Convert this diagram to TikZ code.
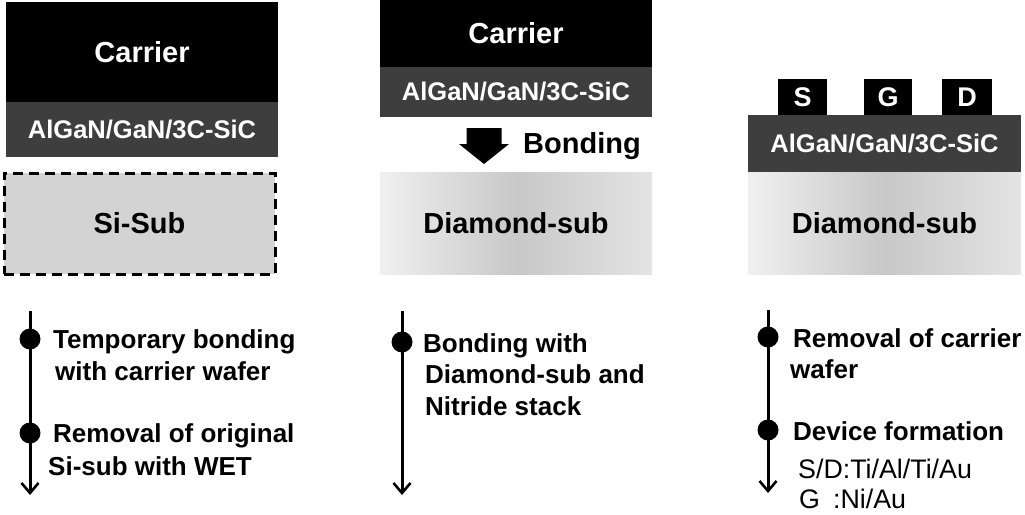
\documentclass[tikz,border=0pt]{standalone}
\usepackage{fontspec}
\setmainfont{Liberation Sans}
\usetikzlibrary{arrows.meta}
\definecolor{layergrey}{RGB}{62,62,62}
\definecolor{sisubgrey}{RGB}{211,211,211}
\definecolor{diaedge}{RGB}{240,240,240}
\definecolor{diamid}{RGB}{200,200,200}
\definecolor{diaright}{RGB}{228,228,228}
\begin{document}
\begin{tikzpicture}[x=1pt,y=-1pt,
  box/.style={anchor=north west, inner sep=0pt, outer sep=0pt},
  carrierbox/.style={box, fill=black, text=white, font=\bfseries\fontsize{29}{32}\selectfont},
  layerbox/.style={box, fill=layergrey, text=white, font=\bfseries\fontsize{25.5}{28}\selectfont},
  subbox/.style={box, text=black, font=\bfseries\fontsize{29}{32}\selectfont},
  diamondbox/.style={subbox, left color=diaedge, right color=diaright, middle color=diamid},
  electrode/.style={box, fill=black, text=white, font=\bfseries\fontsize{27}{29}\selectfont},
  dot/.style={circle, fill=black, inner sep=0pt, minimum size=21pt},
  tl/.style={line width=3pt, -{Straight Barb[length=10pt,width=17pt,line width=2.6pt]}},
  steptext/.style={anchor=base west, inner sep=0pt, font=\bfseries\fontsize{26}{28}\selectfont},
  metaltext/.style={anchor=base west, inner sep=0pt, font=\fontsize{26.8}{28}\selectfont}
]
\path[use as bounding box, fill=white] (0,0) rectangle (1025,514);

% ---- Panel 1 ----
\node[carrierbox, minimum width=272pt, minimum height=100pt] (car1) at (6,2) {Carrier};
\node[layerbox, minimum width=272pt, minimum height=55pt] (lay1) at (6,102) {AlGaN/GaN/3C-SiC};
\node[subbox, fill=sisubgrey, draw=black, line width=3pt, dash pattern=on 10pt off 6pt,
      minimum width=271pt, minimum height=101pt] (si1) at (4,173) {Si-Sub};

% ---- Panel 2 ----
\node[carrierbox, minimum width=272pt, minimum height=67pt] (car2) at (380,0) {Carrier};
\node[layerbox, minimum width=272pt, minimum height=50pt] (lay2) at (380,67) {AlGaN/GaN/3C-SiC};
\coordinate (barrow) at (484,128);
\fill[black] ([shift={(-17.5,0)}]barrow) -- ([shift={(17.5,0)}]barrow) -- ([shift={(17.5,16)}]barrow)
   -- ([shift={(25,16)}]barrow) -- ([shift={(0,36)}]barrow) -- ([shift={(-25,16)}]barrow)
   -- ([shift={(-17.5,16)}]barrow) -- cycle;
\node[anchor=base west, inner sep=0pt, font=\bfseries\fontsize{29}{32}\selectfont] (bondlbl) at (523,153) {Bonding};
\node[diamondbox, minimum width=272pt, minimum height=102pt] (dia2) at (380,172) {Diamond-sub};

% ---- Panel 3 ----
\node[electrode, minimum width=49pt, minimum height=37pt] (es) at (778,79) {S};
\node[electrode, minimum width=48pt, minimum height=37pt] (eg) at (864,79) {G};
\node[electrode, minimum width=50pt, minimum height=37pt] (ed) at (942,79) {D};
\node[layerbox, minimum width=273pt, minimum height=57pt] (lay3) at (748,115) {AlGaN/GaN/3C-SiC};
\node[diamondbox, minimum width=273pt, minimum height=102pt] (dia3) at (748,172) {Diamond-sub};

% ---- Timeline 1 ----
\coordinate (t1s) at (30,311);
\coordinate (t1e) at (30,495);
\draw[tl] (t1s) -- (t1e);
\node[dot] (d11) at (30,339) {};
\node[dot] (d12) at (30,433) {};
\node[steptext] (s11) at (53,348) {Temporary bonding};
\node[steptext] (s12) at (55,380) {with carrier wafer};
\node[steptext] (s13) at (53,442) {Removal of original};
\node[steptext] (s14) at (48,475) {Si-sub with WET};

% ---- Timeline 2 ----
\coordinate (t2s) at (402,311);
\coordinate (t2e) at (402,495);
\draw[tl] (t2s) -- (t2e);
\node[dot] (d21) at (402,342) {};
\node[steptext] (s21) at (423,352) {Bonding with};
\node[steptext] (s22) at (425,383) {Diamond-sub and};
\node[steptext] (s23) at (425,415) {Nitride stack};

% ---- Timeline 3 ----
\coordinate (t3s) at (768,310);
\coordinate (t3e) at (768,493);
\draw[tl] (t3s) -- (t3e);
\node[dot] (d31) at (768,337) {};
\node[dot] (d32) at (768,430) {};
\node[steptext] (s31) at (793,347) {Removal of carrier};
\node[steptext] (s32) at (790,378) {wafer};
\node[steptext] (s33) at (793,440) {Device formation};
\node[metaltext] (s34) at (798,478) {S/D:Ti/Al/Ti/Au};
\node[metaltext] (s35) at (799,508) {G\hspace{13pt}:Ni/Au};
\end{tikzpicture}
\end{document}
